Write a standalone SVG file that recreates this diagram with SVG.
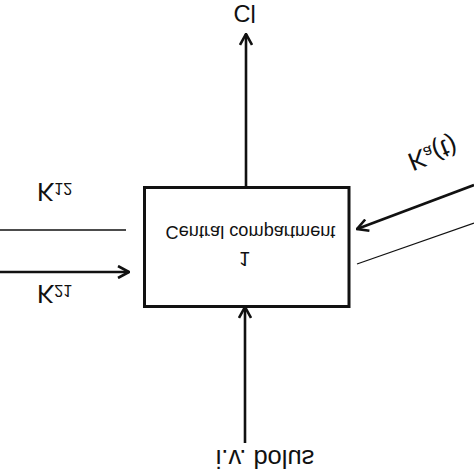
<svg xmlns="http://www.w3.org/2000/svg" width="474" height="474" viewBox="0 0 474 474">
<style>
text{font-family:"Liberation Sans",Arial,sans-serif;fill:#111}
.thick{stroke:#111;stroke-width:2.6;fill:none}
.thin{stroke:#111;stroke-width:1.3;fill:none}
.lbl{font-size:26px}
.sub{font-size:16px}
</style>
<defs>
<marker id="ah" viewBox="0 0 13 14" refX="12" refY="7" markerWidth="13" markerHeight="14" markerUnits="userSpaceOnUse" orient="auto">
<path d="M1,1 L12,7 L1,13" fill="none" stroke="#111" stroke-width="2.6"/>
</marker>
</defs>
<rect width="474" height="474" fill="#fff"/>
<g id="central">
<rect x="144.5" y="187.5" width="204.5" height="119" fill="#fff" stroke="#111" stroke-width="3"/>
<text transform="translate(250.5,226) scale(1,-1)" text-anchor="middle" font-size="18.2">Central compartment</text>
<text transform="translate(244.5,252) scale(1,-1)" text-anchor="middle" font-size="20">1</text>
</g>
<g id="connectors">
<line class="thick" x1="246" y1="187" x2="246" y2="34" marker-end="url(#ah)"/>
<line class="thick" x1="245" y1="443" x2="245" y2="307" marker-end="url(#ah)"/>
<line class="thick" x1="0" y1="272" x2="129" y2="272" marker-end="url(#ah)"/>
<line class="thin" x1="0" y1="230" x2="126" y2="230"/>
<line class="thick" stroke-width="3" x1="474" y1="185" x2="357" y2="229" marker-end="url(#ah)"/>
<line class="thin" x1="357" y1="264" x2="474" y2="223"/>
</g>
<g id="labels">
<text transform="translate(233.5,4.5) scale(1,-1)" font-size="23.5">Cl</text>
<text transform="translate(37,182.5) scale(1,-1)" class="lbl">K<tspan class="sub">12</tspan></text>
<text transform="translate(37,285) scale(1,-1)" class="lbl">K<tspan class="sub">21</tspan></text>
<text transform="translate(406,155) rotate(-22) scale(1,-1)" class="lbl">K<tspan class="sub">a</tspan>(t)</text>
<text transform="translate(265,450) scale(1,-1)" text-anchor="middle" font-size="25.5">i.v. bolus</text>
</g>
</svg>
